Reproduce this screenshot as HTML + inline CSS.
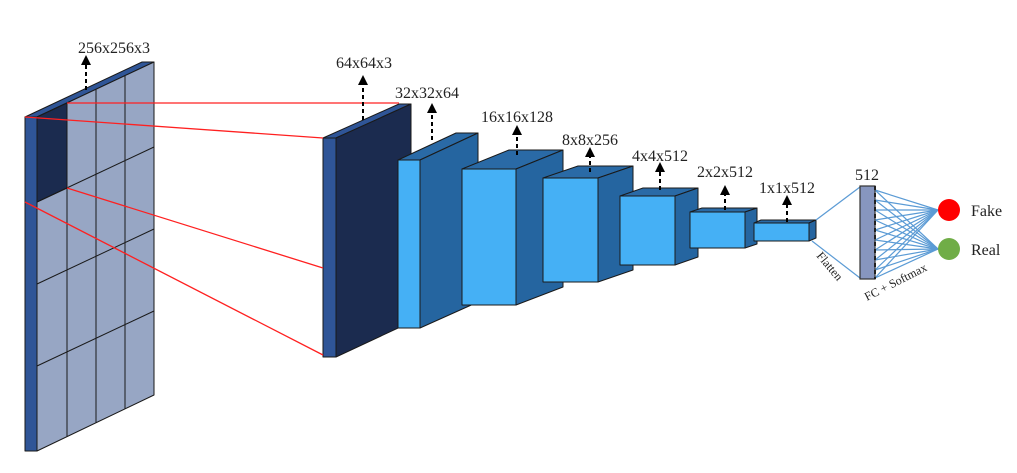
<!DOCTYPE html>
<html><head><meta charset="utf-8"><style>
html,body{margin:0;padding:0;background:#fff}
svg{display:block}
text{font-family:"Liberation Serif",serif;fill:#222}
</style></head><body>
<svg width="1017" height="473" viewBox="0 0 1017 473" xmlns="http://www.w3.org/2000/svg">
<defs>
<marker id="ah" markerWidth="10" markerHeight="10" refX="5" refY="5" orient="auto" markerUnits="userSpaceOnUse">
<path d="M0,0 L10,5 L0,10 z" fill="#000"/>
</marker>
</defs>
<g stroke="#1a1a1a" stroke-width="1" stroke-linejoin="round">
<polygon points="25,117 37,117 154,62 142,62" fill="#2f5597"/>
<polygon points="37,117 154,62 154,395 37,451" fill="#97a6c4"/>
<polygon points="25,117 37,117 37,451 25,451" fill="#2f5597"/>
<polygon points="37,117 67,103 67,188 37,202" fill="#1b2b4f"/>
<g fill="none">
<line x1="67" y1="103" x2="67" y2="437"/>
<line x1="96" y1="89" x2="96" y2="423"/>
<line x1="125" y1="76" x2="125" y2="409"/>
<line x1="37" y1="202" x2="154" y2="147"/>
<line x1="37" y1="284" x2="154" y2="229"/>
<line x1="37" y1="366" x2="154" y2="311"/>
</g>
<polygon points="323,138 336,138 411,104 399,104" fill="#2f5597"/>
<polygon points="336,138 411,104 411,322 336,357" fill="#1b2b4f"/>
<polygon points="323,138 336,138 336,357 323,357" fill="#2f5597"/>
<polygon points="398,160 420,160 478,133 456,133" fill="#2a6aa6"/>
<polygon points="420,160 478,133 478,302 420,328" fill="#2565a0"/>
<rect x="398" y="160" width="22" height="168" fill="#45b0f5"/>
<polygon points="462,169 516,169 563,150 509,150" fill="#2a6aa6"/>
<polygon points="516,169 563,150 563,287 516,305" fill="#2565a0"/>
<rect x="462" y="169" width="54" height="136" fill="#45b0f5"/>
<polygon points="543,178 598,178 633,166 578,166" fill="#2a6aa6"/>
<polygon points="598,178 633,166 633,270 598,282" fill="#2565a0"/>
<rect x="543" y="178" width="55" height="104" fill="#45b0f5"/>
<polygon points="620,196 675,196 698,188 643,188" fill="#2a6aa6"/>
<polygon points="675,196 698,188 698,257 675,265" fill="#2565a0"/>
<rect x="620" y="196" width="55" height="69" fill="#45b0f5"/>
<polygon points="690,212 745,212 757,208 702,208" fill="#2a6aa6"/>
<polygon points="745,212 757,208 757,244 745,248" fill="#2565a0"/>
<rect x="690" y="212" width="55" height="36" fill="#45b0f5"/>
<polygon points="754,223 809,223 816,220 761,220" fill="#2a6aa6"/>
<polygon points="809,223 816,220 816,238 809,241" fill="#2565a0"/>
<rect x="754" y="223" width="55" height="18" fill="#45b0f5"/>
</g>
<g stroke="#ff2020" stroke-width="1.3">
<line x1="67" y1="103" x2="399" y2="103"/>
<line x1="25" y1="117" x2="323" y2="138"/>
<line x1="67" y1="188" x2="323" y2="268"/>
<line x1="25" y1="202" x2="323" y2="355"/>
</g>
<g stroke="#000" stroke-width="2" stroke-dasharray="4,3" marker-end="url(#ah)">
<line x1="86" y1="90" x2="86" y2="60"/>
<line x1="363" y1="120" x2="363" y2="80"/>
<line x1="432" y1="140" x2="432" y2="108"/>
<line x1="517" y1="155" x2="517" y2="130"/>
<line x1="590" y1="172" x2="590" y2="152"/>
<line x1="660" y1="190" x2="660" y2="167"/>
<line x1="725" y1="210" x2="725" y2="190"/>
<line x1="787" y1="222" x2="787" y2="200"/>
</g>
<g font-size="16" text-anchor="middle">
<text x="114" y="53">256x256x3</text>
<text x="364" y="68">64x64x3</text>
<text x="427" y="98">32x32x64</text>
<text x="517" y="122">16x16x128</text>
<text x="590" y="145">8x8x256</text>
<text x="660" y="161">4x4x512</text>
<text x="725" y="177">2x2x512</text>
<text x="787" y="193">1x1x512</text>
<text x="867" y="180">512</text>
</g>
<g stroke="#5b9bd5" stroke-width="1.2">
<line x1="816" y1="220" x2="860" y2="187"/>
<line x1="812" y1="241" x2="860" y2="278"/>
<line x1="875" y1="190" x2="938" y2="210"/><line x1="875" y1="190" x2="938" y2="249"/>
<line x1="875" y1="200" x2="938" y2="210"/><line x1="875" y1="200" x2="938" y2="249"/>
<line x1="875" y1="210" x2="938" y2="210"/><line x1="875" y1="210" x2="938" y2="249"/>
<line x1="875" y1="220" x2="938" y2="210"/><line x1="875" y1="220" x2="938" y2="249"/>
<line x1="875" y1="230" x2="938" y2="210"/><line x1="875" y1="230" x2="938" y2="249"/>
<line x1="875" y1="240" x2="938" y2="210"/><line x1="875" y1="240" x2="938" y2="249"/>
<line x1="875" y1="250" x2="938" y2="210"/><line x1="875" y1="250" x2="938" y2="249"/>
<line x1="875" y1="260" x2="938" y2="210"/><line x1="875" y1="260" x2="938" y2="249"/>
<line x1="875" y1="270" x2="938" y2="210"/><line x1="875" y1="270" x2="938" y2="249"/>
<line x1="875" y1="278" x2="938" y2="210"/><line x1="875" y1="278" x2="938" y2="249"/>
</g>
<rect x="860" y="186" width="15" height="93" fill="#8796bf" stroke="#333" stroke-width="1.2"/>
<line x1="875" y1="186" x2="875" y2="279" stroke="#222" stroke-width="2" stroke-dasharray="4,3"/>
<circle cx="949" cy="210" r="11" fill="#ff0000"/>
<circle cx="949" cy="249" r="11" fill="#70ad47"/>
<text x="971" y="216" font-size="16">Fake</text>
<text x="971" y="255" font-size="16">Real</text>
<text x="0" y="0" font-size="12" transform="translate(816,256) rotate(50)">Flatten</text>
<text x="0" y="0" font-size="12" transform="translate(867,301) rotate(-27)">FC + Softmax</text>
</svg>
</body></html>
